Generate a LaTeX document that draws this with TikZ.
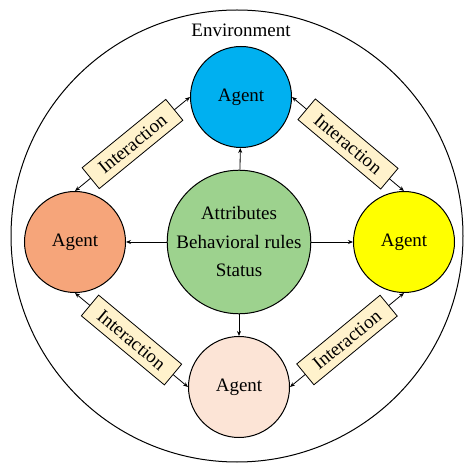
\documentclass[tikz,border=0pt]{standalone}
\usepackage{fontspec}
\setmainfont{Liberation Serif}
\usetikzlibrary{arrows.meta}
\definecolor{cblue}{HTML}{00B0F0}
\definecolor{corange}{HTML}{F6A57A}
\definecolor{cyellow}{HTML}{FFFF00}
\definecolor{cpeach}{HTML}{FCE4D6}
\definecolor{cgreen}{HTML}{9DD28E}
\definecolor{cbox}{HTML}{FFF2CC}
\tikzset{
  agent/.style={circle, draw=black, line width=1pt, minimum size=101pt, inner sep=0pt, font=\fontsize{19}{23}\selectfont},
  core/.style={circle, draw=black, line width=1pt, minimum size=132pt, inner sep=0pt, fill=cgreen, align=center, font=\fontsize{19}{28.5}\selectfont},
  ibox/.style={draw=black, line width=0.8pt, fill=cbox, minimum width=108pt, minimum height=27pt, inner sep=2pt, font=\fontsize{19}{23}\selectfont},
  conn/.style={line width=0.8pt, -{Stealth[length=5pt,width=4pt]}},
  dconn/.style={line width=0.8pt, {Stealth[length=5pt,width=4pt]}-{Stealth[length=5pt,width=4pt]}},
}
\begin{document}
\begin{tikzpicture}[x=1pt,y=-1pt]
\useasboundingbox (0,0) rectangle (474,470);
\node[circle, draw=black, line width=1pt, minimum size=452pt, inner sep=0pt] (env) at (237,236) {};
\node[font=\fontsize{19}{23}\selectfont] (envlabel) at (241,30) {Environment};
\node[agent, fill=cblue] (T) at (241,97) {Agent};
\node[agent, fill=corange] (L) at (75,242) {Agent};
\node[agent, fill=cyellow] (R) at (404,242) {Agent};
\node[agent, fill=cpeach] (B) at (239,387) {Agent};
\node[core] (C) at (239,242) {Attributes\\Behavioral rules\\Status};
\draw[conn] (C) -- (T);
\draw[conn] (C) -- (L);
\draw[conn] (C) -- (R);
\draw[conn] (C) -- (B);
\draw[dconn] (L.north) -- node[ibox, sloped] (i1) {Interaction} (T.west);
\draw[dconn] (T.east) -- node[ibox, sloped] (i2) {Interaction} (R.north);
\draw[dconn] (L.south) -- node[ibox, sloped] (i3) {Interaction} (B.west);
\draw[dconn] (B.east) -- node[ibox, sloped] (i4) {Interaction} (R.south);
\end{tikzpicture}
\end{document}
